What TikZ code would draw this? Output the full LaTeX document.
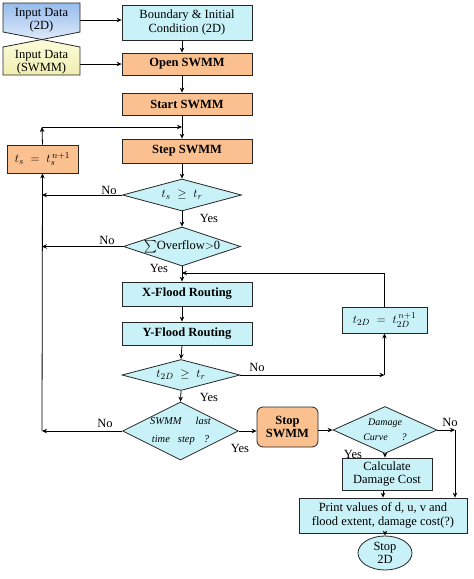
\documentclass[tikz,border=0pt]{standalone}
\usepackage{amsmath, amssymb}
\usepackage{fontspec}
\setmainfont{Liberation Serif}
\usetikzlibrary{arrows.meta, shapes.geometric}

\definecolor{boxcyan}{RGB}{200,242,248}
\definecolor{boxorange}{RGB}{250,192,143}

\begin{document}
\begin{tikzpicture}[x=1pt, y=-1pt,
  every node/.style={font=\fontsize{12.5}{13.5}\selectfont},
  outline/.style={draw=black!85, line width=0.8pt},
  cyanbox/.style={outline, rectangle, fill=boxcyan, align=center, inner sep=1pt},
  orangebox/.style={outline, rectangle, fill=boxorange, align=center, inner sep=1pt,
    font=\fontsize{12.5}{13.5}\selectfont\bfseries},
  decision/.style={outline, diamond, fill=boxcyan, align=center, inner sep=0pt},
  arr/.style={-{Stealth[length=5pt, width=4.5pt]}, line width=0.8pt},
  lbl/.style={inner sep=0pt}]

  \useasboundingbox (0,0) rectangle (474,579);

  % input data
  \draw[outline, top color={rgb,255:red,150;green,188;blue,236}, bottom color={rgb,255:red,222;green,234;blue,250}]
    (3,3) -- (80,3) -- (80,32) -- (42,39.5) -- (3,32) -- cycle;
  \draw[outline, top color={rgb,255:red,252;green,252;blue,218}, bottom color={rgb,255:red,240;green,238;blue,178}]
    (3,75) -- (80,75) -- (80,47) -- (42,39.5) -- (3,47) -- cycle;
  \node[align=center] (inA) at (41.5,20) {Input Data\\(2D)};
  \node[align=center] (inB) at (41.5,62) {Input Data\\(SWMM)};
  \coordinate (inAe) at (80,20);
  \coordinate (inBe) at (80,64);

  % main column
  \node[cyanbox, minimum width=130pt, minimum height=35pt] (bnd) at (187,22.5) {Boundary \& Initial\\Condition (2D)};
  \node[orangebox, minimum width=130pt, minimum height=22pt] (open) at (187,64) {Open SWMM};
  \node[orangebox, minimum width=130pt, minimum height=22pt] (start) at (187,104) {Start SWMM};
  \node[orangebox, minimum width=130pt, minimum height=24pt] (step) at (187,151) {Step SWMM};
  \node[decision, aspect=3.5, minimum width=119pt, minimum height=32pt] (d1) at (182,195) {$t_s \;\geq\; t_r$};
  \node[decision, aspect=3, minimum width=117pt, minimum height=39pt] (d2) at (182,246.5) {$\sum$Overflow$>$0};
  \node[cyanbox, minimum width=130pt, minimum height=24pt, font=\fontsize{12.5}{13.5}\selectfont\bfseries] (xf) at (187,294) {X-Flood Routing};
  \node[cyanbox, minimum width=130pt, minimum height=23pt, font=\fontsize{12.5}{13.5}\selectfont\bfseries] (yf) at (187,333.5) {Y-Flood Routing};
  \node[decision, aspect=3.5, minimum width=118pt, minimum height=31pt] (d3) at (181,375) {$t_{2D} \;\geq\; t_r$};
  \node[decision, aspect=2, minimum width=115pt, minimum height=58pt,
    font=\fontsize{10.5}{18}\selectfont\itshape] (d4) at (180.5,431) {SWMM\hspace{14pt}last\\time\hspace{8pt}step\hspace{9pt}?};

  % side boxes
  \node[orangebox, minimum width=71pt, minimum height=28pt, font=\fontsize{12.5}{13.5}\selectfont] (ts) at (42.5,159) {$t_s \;=\; t_s^{\,n+1}$};
  \node[cyanbox, minimum width=85pt, minimum height=26pt] (t2d) at (384.5,320) {$t_{2D} \;=\; t_{2D}^{\,n+1}$};

  % end part
  \node[orangebox, rounded corners=6pt, minimum width=61pt, minimum height=40pt] (stop) at (287.5,427) {Stop\\SWMM};
  \node[decision, aspect=2, minimum width=104pt, minimum height=47pt,
    font=\fontsize{10}{15}\selectfont\itshape] (d5) at (385,430) {Damage\\Curve\hspace{14pt}?};
  \node[cyanbox, minimum width=90pt, minimum height=32pt] (calc) at (387,474) {Calculate\\Damage Cost};
  \node[cyanbox, minimum width=168pt, minimum height=35pt] (prt) at (383,515.5) {Print values of d, u, v and\\flood extent, damage cost(?)};
  \node[outline, ellipse, fill=boxcyan, minimum width=54pt, minimum height=34pt, inner sep=0pt, align=center] (stopd) at (385,553) {Stop\\2D};

  \coordinate (col) at (182,0);
  \coordinate (loop) at (42,0);
  \coordinate (rt) at (455,0);
  \coordinate (top) at (42,127);
  \coordinate (back) at (384.5,273);

  % connectors
  \draw[arr] (inAe) -- (inAe -| bnd.west);
  \draw[arr] (inBe) -- (inBe -| open.west);
  \draw[arr] (bnd.south -| col) -- (open.north -| col);
  \draw[arr] (open.south -| col) -- (start.north -| col);
  \draw[arr] (start.south -| col) -- (step.north -| col);
  \draw[arr] (step.south -| col) -- (d1.north);
  \draw[arr] (d1.south) -- (d2.north);
  \draw[arr] (d2.south) -- (xf.north -| col);
  \draw[arr] (xf.south -| col) -- (yf.north -| col);
  \draw[arr] (yf.south -| col) -- (d3.north);
  \draw[arr] (d3.south) -- (d4.north);

  \draw[arr] (ts.north) -- (top);
  \draw[arr] (top) -- (top -| col);
  \draw[arr] (d1.west) -- (d1.west -| loop);
  \draw[arr] (d2.west) -- (d2.west -| loop);
  \draw[arr] (d4.west) -- (d4.west -| loop);
  \draw[arr] (d4.west -| loop) -- (ts.south);

  \draw[arr] (d3.east) -- (d3.east -| t2d.south);
  \draw[arr] (d3.east -| t2d.south) -- (t2d.south);
  \draw[line width=0.8pt] (t2d.north) -- (back);
  \draw[arr] (back) -- (back -| col);

  \draw[arr] (d4.east) -- (d4.east -| stop.west);
  \draw[arr] (stop.east |- d5.west) -- (d5.west);
  \draw[arr] (d5.east) -- (d5.east -| rt);
  \draw[arr] (d5.east -| rt) -- (prt.north -| rt);
  \draw[arr] (d5.south) -- (calc.north -| d5.south);
  \draw[arr] (calc.south -| prt.north) -- (prt.north);
  \draw[arr] (prt.south -| stopd.north) -- (stopd.north);

  % yes / no labels
  \node[lbl] at (109,190) {No};
  \node[lbl] at (107,240) {No};
  \node[lbl] at (105,423) {No};
  \node[lbl] at (257,367) {No};
  \node[lbl] at (450,422) {No};
  \node[lbl] at (209,218) {Yes};
  \node[lbl] at (159,268) {Yes};
  \node[lbl] at (209,397) {Yes};
  \node[lbl] at (240,448) {Yes};
  \node[lbl] at (353,454) {Yes};
\end{tikzpicture}
\end{document}
